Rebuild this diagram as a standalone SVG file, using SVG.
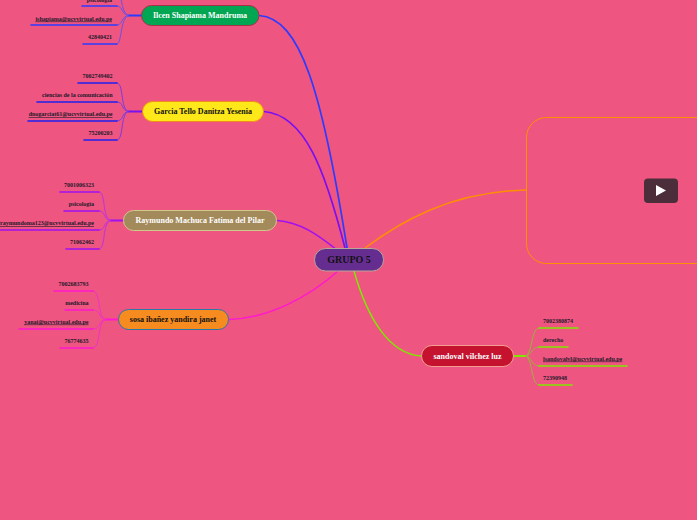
<svg xmlns="http://www.w3.org/2000/svg" width="697" height="520" viewBox="0 0 697 520">
<style>
text{font-family:"Liberation Serif","Times New Roman",serif;font-weight:bold}
.n{font-size:8px;text-anchor:middle}
.s{font-size:6px;text-anchor:end;fill:#1a1a2a}
.st{text-anchor:start}
.e{text-decoration:underline}
.l{fill:none;stroke-linecap:round}
.u{stroke-width:1.6}
.b{stroke-width:1}
.blue{stroke:#2b3cff}.bl{stroke:#6a50e8}
.vio{stroke:#7a10f0}.vi{stroke:#7a3ae0}
.pur{stroke:#a010f0}.pu{stroke:#c030e0}
.mag{stroke:#ff18d0}.ma{stroke:#f030c8}
.gre{stroke:#80e800}.gr{stroke:#a0b040}
</style>
<rect width="697" height="520" fill="#ef5581"/>
<g id="connectors">
<path class="l" stroke="#2b3cff" stroke-width="1.7" d="M259 15.500C300 18 322 90 347 248"/>
<path class="l" stroke="#7a10f0" stroke-width="1.7" d="M264 111.500C305 115 325 170 345 248"/>
<path class="l" stroke="#a010f0" stroke-width="1.500" d="M277 220.500C300 222 318 235 337 250"/>
<path class="l" stroke="#ff18d0" stroke-width="1.500" d="M229 319.500C270 318 310 296 338 271"/>
<path class="l" stroke="#80e800" stroke-width="1.500" d="M354 271C368 320 390 354 421 356"/>
<path class="l" stroke="#ff9000" stroke-width="1.500" d="M365 248C400 222 450 192 526 190"/>

<path class="l blue" stroke-width="1.800" d="M128 15.500H141"/>
<path class="l bl b" d="M128 15.500C120 12 122 -10 117 -13M128 15.500C121 14 123 6 117 6M128 15.500C121 17 123 25 117 25M128 15.500C120 19 122 44 117 44"/>
<path class="l blue u" d="M82 6H117M31 25H117M83 44H117"/>

<path class="l vio" stroke-width="1.800" d="M128 111.500H142"/>
<path class="l vi b" d="M128 111.500C120 108 124 83 117 83M128 111.500C121 110 124 102 117 102M128 111.500C121 113 124 121 117 121M128 111.500C120 115 124 140 117 140"/>
<path class="l" stroke="#2020f0" stroke-width="1.600" d="M78 83H117M37 102H117M28 121H117M84 140H117"/>

<path class="l pur" stroke-width="1.800" d="M110 220.500H123"/>
<path class="l pu b" d="M110 220.500C102 217 106 192 99 192M110 220.500C103 219 106 211 99 211M110 220.500C103 222 106 230 99 230M110 220.500C102 224 106 249 99 249"/>
<path class="l pur u" d="M60 192H99M64 211H99M0 230H99M66 249H99"/>

<path class="l mag" stroke-width="1.800" d="M105 319.500H118"/>
<path class="l ma b" d="M105 319.500C97 316 101 291 93 291M105 319.500C98 318 101 310 93 310M105 319.500C98 321 101 329 93 329M105 319.500C97 323 101 348 93 348"/>
<path class="l mag u" d="M54 291H93M65 310H93M19 329H93M60 348H93"/>

<path class="l gre" stroke-width="1.800" d="M513 356H526"/>
<path class="l gr b" d="M526 356C533 352 531 328 539 328M526 356C532 355 531 347 539 347M526 356C532 357 531 366 539 366M526 356C533 360 531 385 539 385"/>
<path class="l gre u" d="M539 328H578M539 347H568M539 366H627M539 385H572"/>
</g>

<g id="node-ilcen"><rect x="141.500" y="5.500" width="117.500" height="20" rx="10" fill="#00a651" stroke="#a8324a"/><text class="n" x="200" y="18" fill="#fff">Ilcen Shapiama Mandruma</text></g>
<g id="node-garcia"><rect x="142.500" y="101.500" width="121" height="20" rx="10" fill="#ffe81a" stroke="#f08a20"/><text class="n" x="203" y="114" fill="#111">Garcia Tello Danitza Yesenia</text></g>
<g id="node-raymundo"><rect x="123.500" y="210.500" width="153" height="20" rx="10" fill="#a38a5b" stroke="#cfc98a"/><text class="n" x="200" y="223" fill="#fff">Raymundo Machuca Fatima del Pilar</text></g>
<g id="node-sosa"><rect x="118.500" y="309.500" width="110" height="20" rx="10" fill="#f68b1f" stroke="#2a78a8"/><text class="n" x="173" y="322" fill="#111">sosa ibañez yandira janet</text></g>
<g id="node-grupo"><rect x="314.500" y="248.500" width="69" height="22.500" rx="11" fill="#662d91" stroke="#b8a898"/><text x="349" y="263" font-size="10" text-anchor="middle" fill="#111">GRUPO 5</text></g>
<g id="node-sandoval"><rect x="421.500" y="345.500" width="92" height="21" rx="10.500" fill="#c4122f" stroke="#efa090"/><text class="n" x="467.500" y="359" fill="#fff">sandoval vilchez luz</text></g>

<g id="node-video"><rect x="526.500" y="117.500" width="220" height="146" rx="20" fill="none" stroke="#ff9000"/>
<rect x="644" y="178.500" width="34" height="24.500" rx="4" fill="#4b2e39"/><path d="M656 185V196L666 190.500Z" fill="#fff"/></g>

<g id="leaves-ilcen">
<text class="s" x="112" y="2">psicología</text>
<text class="s e" x="112" y="20.500">ishapiama@ucvvirtual.edu.pe</text>
<text class="s" x="112" y="39">42840421</text>
</g>
<g id="leaves-garcia">
<text class="s" x="112.500" y="78">7002749402</text>
<text class="s" x="112.500" y="97">ciencias de la comunicación</text>
<text class="s e" x="112.500" y="116">dnogarciat61@ucvvirtual.edu.pe</text>
<text class="s" x="112.500" y="135">75200203</text>
</g>
<g id="leaves-raymundo">
<text class="s" x="94" y="187">7001006323</text>
<text class="s" x="94" y="206">psicología</text>
<text class="s e" x="94" y="225">fraymundoma123@ucvvirtual.edu.pe</text>
<text class="s" x="94" y="244">71062462</text>
</g>
<g id="leaves-sosa">
<text class="s" x="88.500" y="285.500">7002683793</text>
<text class="s" x="88.500" y="304.500">medicina</text>
<text class="s e" x="88.500" y="323.500">yanai@ucvvirtual.edu.pe</text>
<text class="s" x="88.500" y="342.500">76774635</text>
</g>
<g id="leaves-sandoval">
<text class="s st" x="543" y="322.500">7002380874</text>
<text class="s st" x="543" y="341.500">derecho</text>
<text class="s e st" x="543" y="360.500">lsandovalvl@ucvvirtual.edu.pe</text>
<text class="s st" x="543" y="379.500">72390948</text>
</g>
</svg>
